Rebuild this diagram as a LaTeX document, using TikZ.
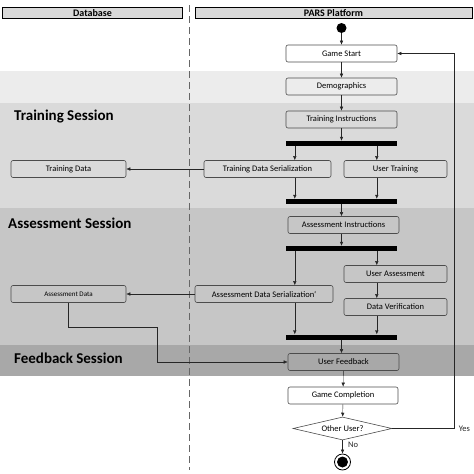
\documentclass[tikz,border=0pt]{standalone}
\usepackage{fontspec}
\setmainfont{Carlito}
\usetikzlibrary{shapes.geometric, arrows.meta}
\definecolor{bandA}{HTML}{ECECEC}
\definecolor{bandB}{HTML}{DADADA}
\definecolor{bandC}{HTML}{C6C6C6}
\definecolor{bandD}{HTML}{A8A8A8}
\tikzset{
  act/.style = {draw=black!70, semithick, rounded corners=2pt, minimum height=17pt, inner sep=1pt,
                font=\fontsize{8.5}{9}\selectfont},
  bar/.style = {fill=black, minimum width=111pt, minimum height=5pt, inner sep=0pt},
  flow/.style = {-{Latex[length=4pt,width=3.5pt]}, black!85},
  lane/.style = {draw=black, thick, fill=black!15, minimum height=11pt, inner sep=0pt,
                 font=\bfseries\fontsize{10}{11}\selectfont},
  session/.style = {anchor=west, inner sep=0pt, font=\bfseries\fontsize{15}{17}\selectfont}
}

\begin{document}
\begin{tikzpicture}[x=1pt, y=-1pt]
    \useasboundingbox (0,0) rectangle (474,474);

    % session bands
    \fill[bandA] (0, 71) rectangle (474,103);
    \fill[bandB] (0,103) rectangle (474,208);
    \fill[bandC] (0,208) rectangle (474,345);
    \fill[bandD] (0,345) rectangle (474,376);

    \node[session] (trainlbl)  at (14,117) {Training Session};
    \node[session] (assesslbl) at ( 8,223) {Assessment Session};
    \node[session] (feedlbl)   at (14,358) {Feedback Session};

    % swimlanes
    \draw[black!60, dash pattern=on 7pt off 4pt] (189,5) -- (189,470);
    \node[lane, minimum width=180pt] (db)   at ( 92.5,13) {Database};
    \node[lane, minimum width=277pt] (pars) at (333.5,13) {PARS Platform};

    % platform
    \node[circle, fill=black, minimum size=10pt, inner sep=0pt] (init) at (341.5,28) {};
    \node[act, minimum width=111pt] (gs)   at (341.5, 53.5) {Game Start};
    \node[act, minimum width=111pt] (demo) at (341.5, 86.5) {Demographics};
    \node[act, minimum width=111pt] (ti)   at (341.5,119.5) {Training Instructions};
    \node[bar] (bar1) at (341.5,143.5) {};
    \node[act, minimum width=127pt] (tds)  at (267.5,169) {Training Data Serialization};
    \node[act, minimum width=103pt] (ut)   at (395.5,169) {User Training};
    \node[bar] (bar2) at (341.5,201.5) {};
    \node[act, minimum width=111pt] (ai)   at (343.5,225) {Assessment Instructions};
    \node[bar] (bar3) at (341.5,248.5) {};
    \node[act, minimum width=103pt] (ua)   at (395.5,274) {User Assessment};
    \node[act, minimum width=138pt] (ads)  at (264,294) {Assessment Data Serialization`};
    \node[act, minimum width=103pt] (dv)   at (395.5,307) {Data Verification};
    \node[bar] (bar4) at (341.5,337) {};
    \node[act, minimum width=111pt] (uf)   at (343.5,362) {User Feedback};
    \node[act, minimum width=110pt] (gc)   at (343,395.5) {Game Completion};
    \node[diamond, draw=black!70, semithick, aspect=4.3, minimum width=99pt, minimum height=23pt,
          inner sep=0.5pt, font=\fontsize{8.5}{9}\selectfont] (other) at (342.5,428.5) {Other User?};
    \node[circle, draw=black, thick, minimum size=16pt, inner sep=0pt] (fin) at (342.5,462) {};
    \node[circle, fill=black, minimum size=11pt, inner sep=0pt] (fincore) at (fin) {};

    % database
    \node[act, minimum width=115pt] (td) at (68.5,169) {Training Data};
    \node[act, minimum width=115pt, font=\fontsize{7}{8}\selectfont] (ad) at (68.5,294) {Assessment Data};

    % flow
    \draw[flow] (init) -- (gs);
    \draw[flow] (gs) -- (demo);
    \draw[flow] (demo) -- (ti);
    \draw[flow] (ti) -- (bar1);
    \draw[flow] ([xshift=9pt]bar1.south west) -- ([xshift=9pt]bar1.south west |- tds.north);
    \draw[flow] ([xshift=91pt]bar1.south west) -- ([xshift=91pt]bar1.south west |- ut.north);
    \draw[flow] ([xshift=9pt]bar2.north west |- tds.south) -- ([xshift=9pt]bar2.north west);
    \draw[flow] ([xshift=91pt]bar2.north west |- ut.south) -- ([xshift=91pt]bar2.north west);
    \draw[flow] (tds) -- (td);
    \draw[flow] (bar2) -- (bar2 |- ai.north);
    \draw[flow] (bar2 |- ai.south) -- (bar3);
    \draw[flow] ([xshift=9pt]bar3.south west) -- ([xshift=9pt]bar3.south west |- ads.north);
    \draw[flow] ([xshift=91pt]bar3.south west) -- ([xshift=91pt]bar3.south west |- ua.north);
    \draw[flow] ([xshift=91pt]bar3.south west |- ua.south) -- ([xshift=91pt]bar3.south west |- dv.north);
    \draw[flow] ([xshift=9pt]bar4.north west |- ads.south) -- ([xshift=9pt]bar4.north west);
    \draw[flow] ([xshift=91pt]bar4.north west |- dv.south) -- ([xshift=91pt]bar4.north west);
    \draw[flow] (ads) -- (ad);
    \draw[flow] (bar4) -- (bar4 |- uf.north);
    \draw[flow] (ad.south) -- ++(0,24) -- ++(89,0) |- (uf.west);
    \draw[flow] (uf) -- (gc);
    \draw[flow] (gc) -- (other);
    \draw[flow] (other) -- (fin) node[pos=0.35, right=2pt, font=\fontsize{8.5}{9}\selectfont] {No};
    \draw[flow] (other.east) -- ++(62,0) node[right=1pt, font=\fontsize{8.5}{9}\selectfont] {Yes} |- (gs.east);
\end{tikzpicture}
\end{document}
